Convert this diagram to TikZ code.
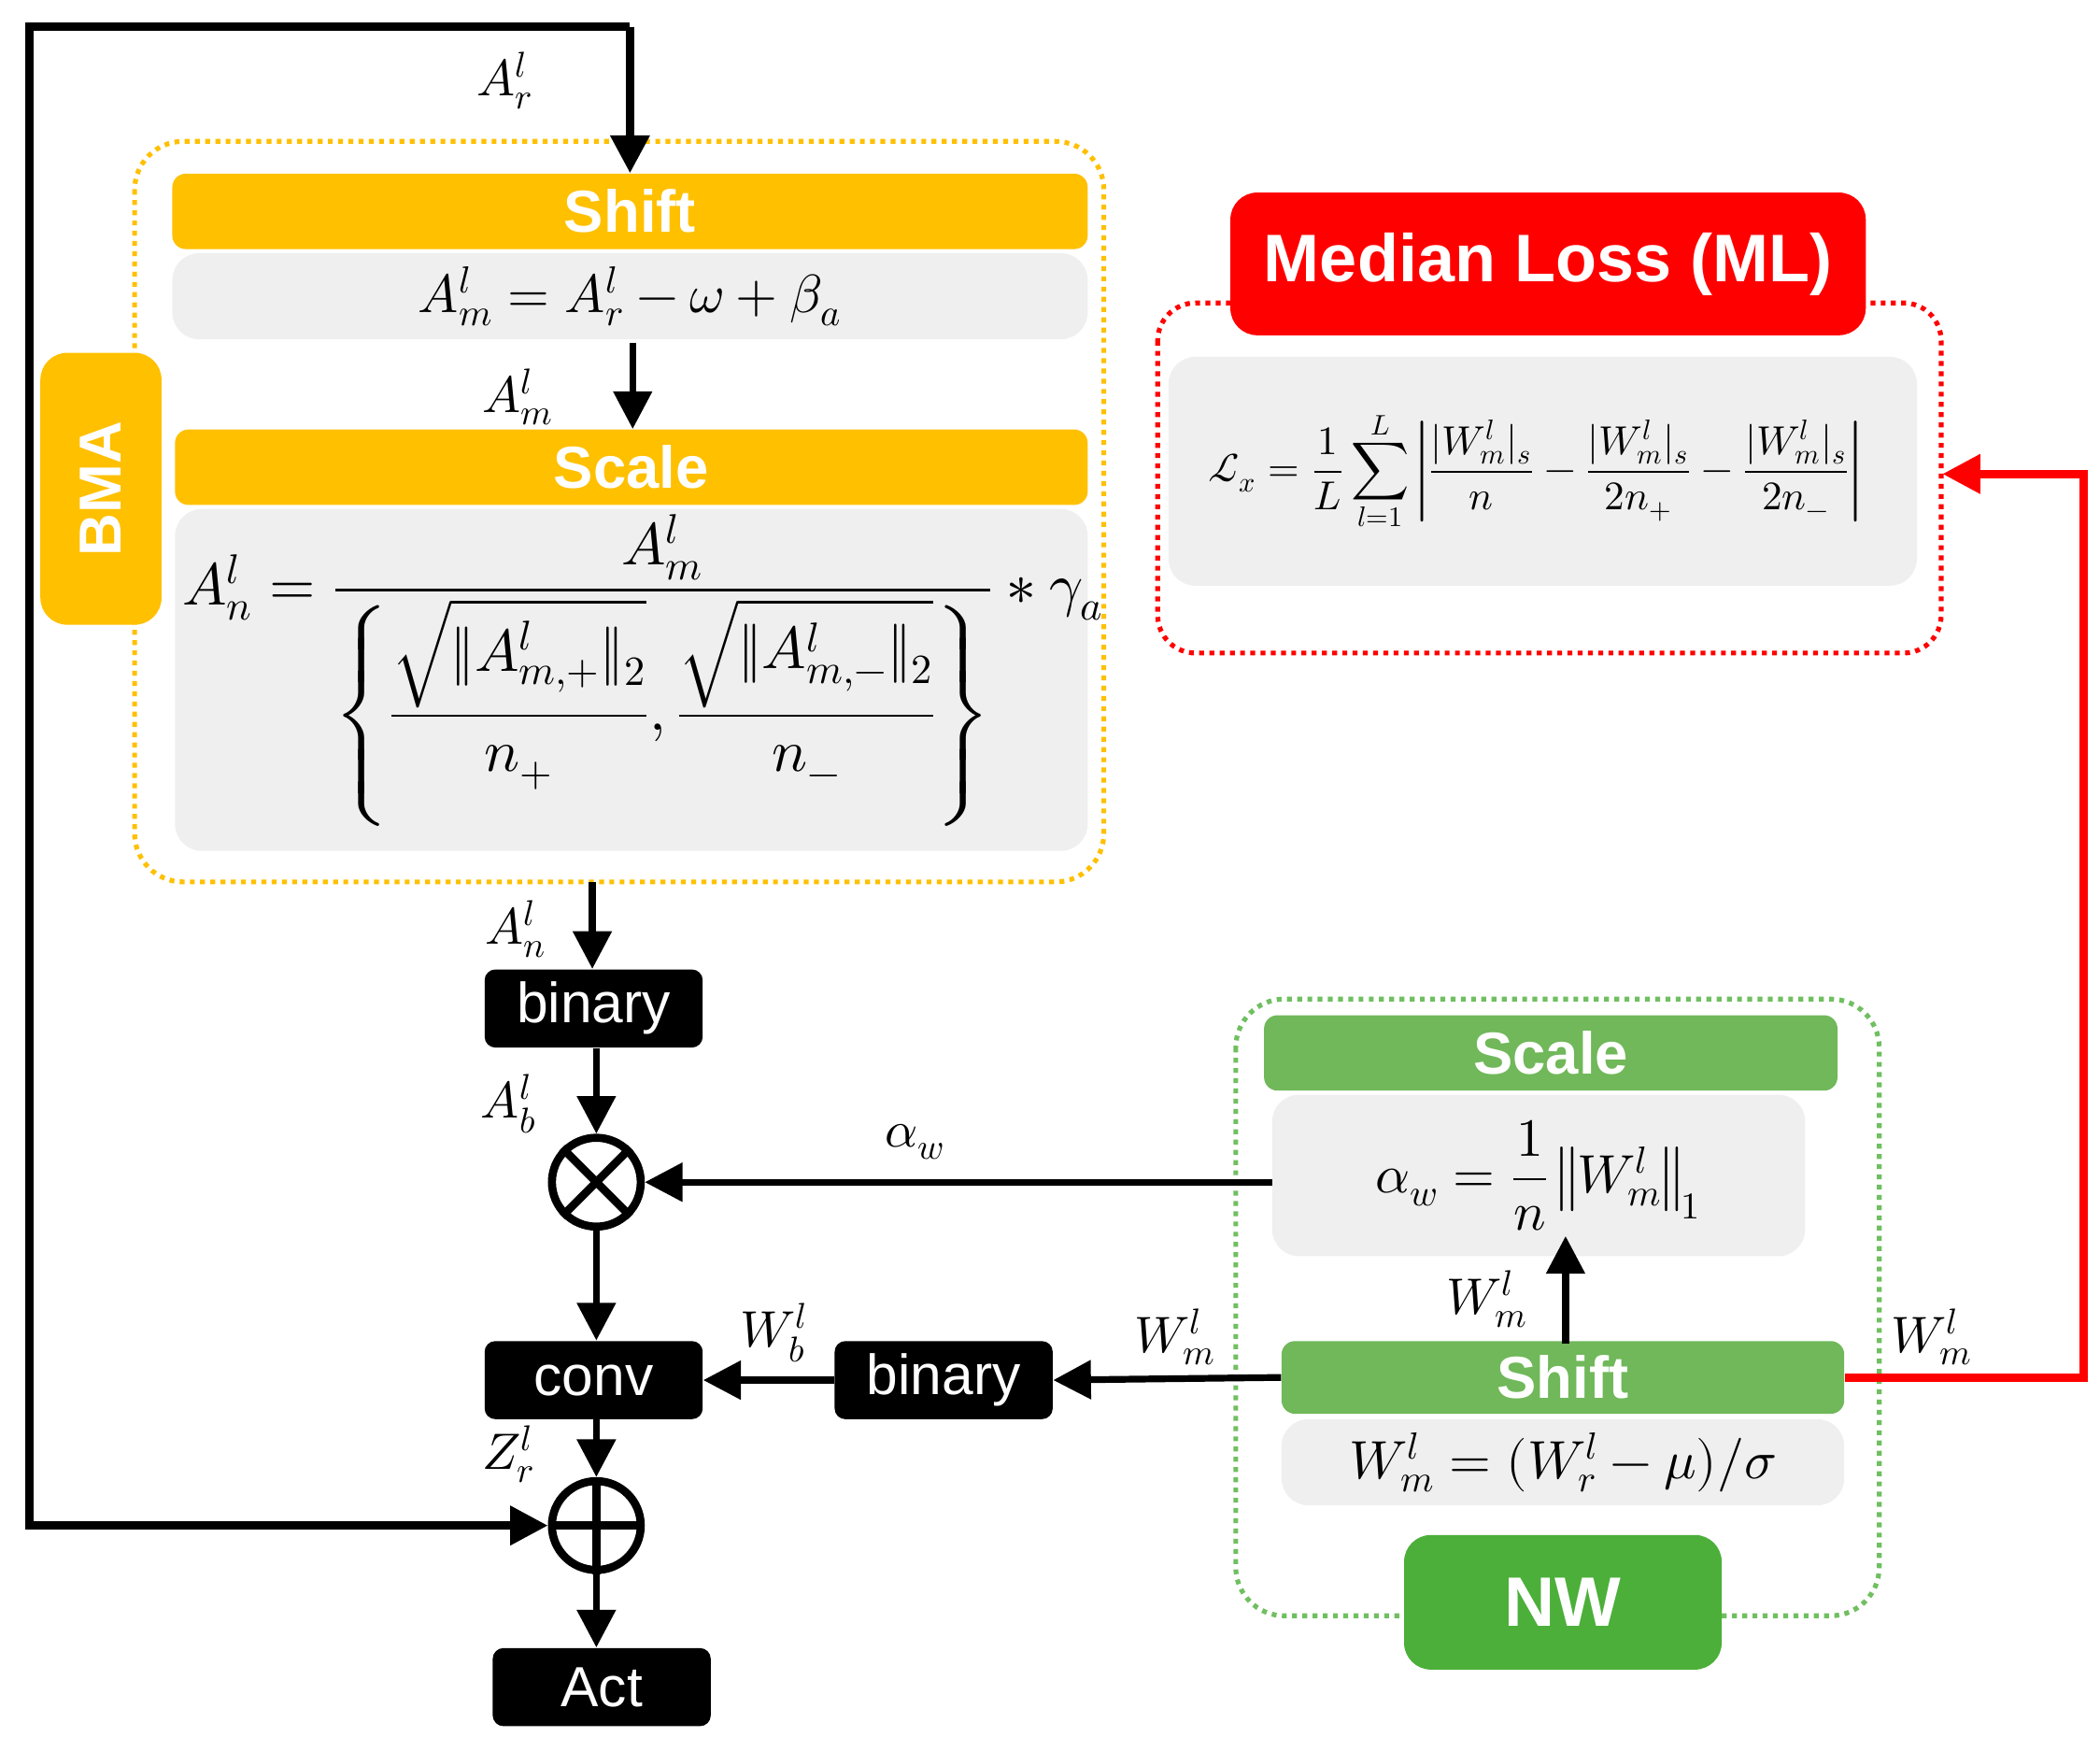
\documentclass[tikz,border=0pt]{standalone}
\usepackage{amsmath}
\usepackage{fontspec}
\setmainfont{Liberation Sans}
\usepackage{unicode-math}
\setmathfont{Latin Modern Math}
\usetikzlibrary{arrows.meta}
\definecolor{orng}{HTML}{FFC000}
\definecolor{grn}{HTML}{70B85A}
\definecolor{dgrn}{HTML}{4CAF3A}
\definecolor{gry}{HTML}{EFEFEF}
\begin{document}
\begin{tikzpicture}[x=0.5pt,y=-0.5pt,
  bar/.style={rounded corners=5pt,inner sep=0pt,font=\fontsize{22}{26}\selectfont\bfseries,text=white},
  gbox/.style={fill=gry,rounded corners=10pt,inner sep=0pt},
  blk/.style={fill=black,rounded corners=4pt,inner sep=0pt,text=white,font=\fontsize{21}{25}\selectfont,minimum width=81pt,minimum height=29pt},
  arr/.style={line width=2.5pt,-{Triangle[length=14pt,width=14pt]}},
  lab/.style={font=\fontsize{19}{22}\selectfont},
  mth/.style={font=\fontsize{20}{24}\selectfont}]
\useasboundingbox (0,0) rectangle (1560,1290);
% BMA box
\draw[orng,dotted,line width=1.8pt,rounded corners=18pt] (100,105) rectangle (820,655);
\node[bar,fill=orng,minimum width=340pt,minimum height=28pt] (shift) at (468,157) {Shift};
\node[gbox,minimum width=340pt,minimum height=32pt,mth] (f1) at (468,220) {$A^l_m=A^l_r-\omega+\beta_a$};
\node[bar,fill=orng,minimum width=339pt,minimum height=28pt] (scale) at (469,347) {Scale};
\node[gbox,minimum width=339pt,minimum height=127pt] (f2) at (469,505) {};
\node[anchor=west,inner sep=0pt,font=\fontsize{22}{26}\selectfont] at (135,498) {$A^l_n=\dfrac{A^l_m}{\left\{\dfrac{\sqrt{\|A^l_{m,+}\|_2}}{n_+},\dfrac{\sqrt{\|A^l_{m,-}\|_2}}{n_-}\right\}}*\gamma_a$};
\node[bar,fill=orng,minimum width=45pt,minimum height=101pt,rounded corners=10pt] (bma) at (75,363) {\rotatebox{90}{BMA}};
\draw[arr] (470,255) -- (scale.north -| 470,0);
\node[lab] at (385,295) {$A^l_m$};
% circles
\node[circle,draw,line width=3pt,minimum size=33pt,inner sep=0pt] (otimes) at (443,878) {};
\draw[line width=3pt] (otimes.north west) -- (otimes.south east) (otimes.north east) -- (otimes.south west);
\node[circle,draw,line width=3pt,minimum size=33pt,inner sep=0pt] (oplus) at (443,1133) {};
\draw[line width=3pt] (oplus.north) -- (oplus.south) (oplus.west) -- (oplus.east);
% loop
\coordinate (bl) at (22,1133);
\coordinate (tl) at (22,20);
\coordinate (tr) at (468,20);
\draw[line width=3pt,-{Triangle[length=14pt,width=14pt]}] (tr) -- (shift.north);
\draw[line width=3pt,-{Triangle[length=14pt,width=14pt]},line join=miter] (tr) -- (tl) -- (bl) -- (oplus.west);
\node[lab] at (375,60) {$A^l_r$};
% chain
\node[blk] (bin1) at (441,749) {binary};
\node[blk] (conv) at (441,1025) {conv};
\node[blk] (bin2) at (701,1025) {binary};
\node[blk] (act) at (447,1253) {Act};
\draw[arr] (440,655) -- (bin1.north -| 440,0);
\node[lab] at (383,690) {$A^l_n$};
\draw[arr] (otimes.north |- bin1.south) -- (otimes.north);
\node[lab] at (378,820) {$A^l_b$};
\draw[arr] (otimes.south) -- (otimes.south |- conv.north);
\draw[arr] (oplus.north |- conv.south) -- (oplus.north);
\node[lab] at (378,1080) {$Z^l_r$};
\draw[arr] (oplus.south) -- (oplus.south |- act.north);
\draw[arr] (bin2.west) -- (conv.east);
\node[lab] at (575,990) {$W^l_b$};
% NW
\draw[dgrn!80,dotted,line width=1.8pt,rounded corners=18pt] (918,742) rectangle (1396,1200);
\node[bar,fill=grn,minimum width=213pt,minimum height=28pt] (nscale) at (1152,782) {Scale};
\node[gbox,minimum width=198pt,minimum height=60pt,mth] (f3) at (1143,873) {$\alpha_w=\dfrac{1}{n}\left\|W^l_m\right\|_1$};
\node[bar,fill=grn,minimum width=209pt,minimum height=27pt] (nshift) at (1161,1023) {Shift};
\node[gbox,minimum width=209pt,minimum height=32pt,mth] (f4) at (1161,1086) {$W^l_m=(W^l_r-\mu)/\sigma$};
\node[bar,fill=dgrn,minimum width=118pt,minimum height=50pt,rounded corners=10pt,font=\fontsize{26}{30}\selectfont\bfseries] (nw) at (1161,1190) {NW};
\draw[arr] (1163,998) -- (1163,918);
\node[lab] at (1105,965) {$W^l_m$};
\draw[arr] (nshift.west) -- (bin2.east);
\node[lab] at (873,993) {$W^l_m$};
\draw[arr] (945,878) -- (otimes.east);
\node[lab] at (680,848) {$\alpha_w$};
% ML
\draw[red,dotted,line width=1.8pt,rounded corners=14pt] (860,225) rectangle (1442,485);
\node[bar,fill=red,minimum width=236pt,minimum height=53pt,rounded corners=10pt,font=\fontsize{25}{30}\selectfont\bfseries] (ml) at (1150,196) {Median Loss (ML)};
\node[gbox,minimum width=278pt,minimum height=85pt] (f5) at (1146,350) {};
\node[inner sep=0pt,font=\fontsize{15}{18}\selectfont] at (1140,350) {$\mathcal{L}_x=\dfrac{1}{L}\displaystyle\sum_{l=1}^{L}\left|\dfrac{|W^l_m|_s}{n}-\dfrac{|W^l_m|_s}{2n_+}-\dfrac{|W^l_m|_s}{2n_-}\right|$};
\coordinate (rc) at (1548,352);
\draw[red,line width=3pt,-{Triangle[length=14pt,width=14pt]}] (nshift.east) -- (1548,1023) -- (rc) -- (1443,352);
\node[lab] at (1435,993) {$W^l_m$};
\end{tikzpicture}
\end{document}
